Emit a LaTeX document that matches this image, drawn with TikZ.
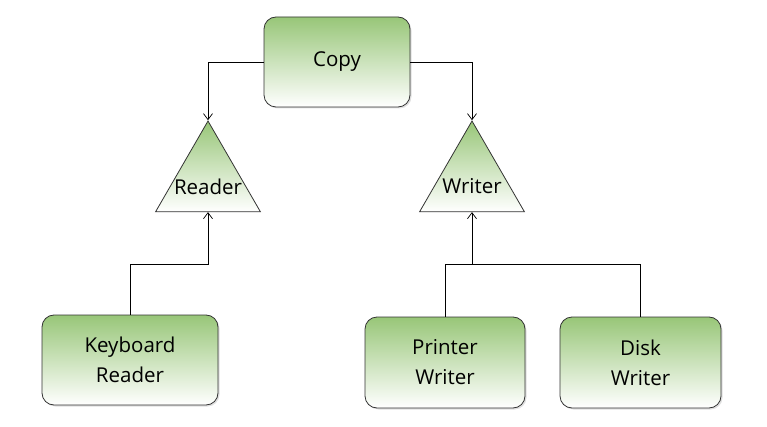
\documentclass[tikz,border=0pt]{standalone}
\usepackage{fontspec}
\setmainfont{Open Sans}
\usetikzlibrary{arrows.meta,shapes.geometric,shadows}
\definecolor{boxgreen}{RGB}{152,198,120}
\tikzset{
    classbox/.style={draw=black!80,line width=0.8pt,rounded corners=12pt,
        top color=boxgreen,bottom color=white,align=center,
        font=\fontsize{20.5}{30}\selectfont,
        drop shadow={opacity=0.25,shadow xshift=1.5pt,shadow yshift=-1.5pt}},
    iface/.style={draw=black!80,line width=0.8pt,regular polygon,regular polygon sides=3,
        minimum size=121pt,inner sep=0pt,top color=boxgreen,bottom color=white},
    arr/.style={-{Straight Barb[length=6pt,width=9pt]},line width=0.7pt},
    link/.style={line width=0.7pt}
}
\begin{document}
\begin{tikzpicture}[x=1pt,y=-1pt]
        \useasboundingbox (0,0) rectangle (767,427);
        % interfaces
        \node[iface,label={[font=\fontsize{20.5}{24}\selectfont,yshift=-5pt]center:Reader}] (reader) at (208,181.5) {};
        \node[iface,label={[font=\fontsize{20.5}{24}\selectfont,yshift=-5pt]center:Writer}] (writer) at (472,181.5) {};
        % classes
        \node[classbox,minimum width=146pt,minimum height=90pt] (copy) at (337,62) {Copy};
        \node[classbox,minimum width=176pt,minimum height=90pt] (kbd) at (130,360) {Keyboard\\Reader};
        \node[classbox,minimum width=160pt,minimum height=91pt] (printer) at (445,362.5) {Printer\\Writer};
        \node[classbox,minimum width=161pt,minimum height=91pt] (disk) at (640.5,362.5) {Disk\\Writer};
        \coordinate (bus) at (0,264);
        % uses
        \draw[arr] (copy.west) -| (reader.corner 1);
        \draw[arr] (copy.east) -| (writer.corner 1);
        % implements
        \draw[arr] (kbd.north) |- (bus -| reader.south) -- (reader.south);
        \draw[link] (printer.north) |- (bus -| disk.north) -- (disk.north);
        \draw[arr] (bus -| writer.south) -- (writer.south);
\end{tikzpicture}
\end{document}
